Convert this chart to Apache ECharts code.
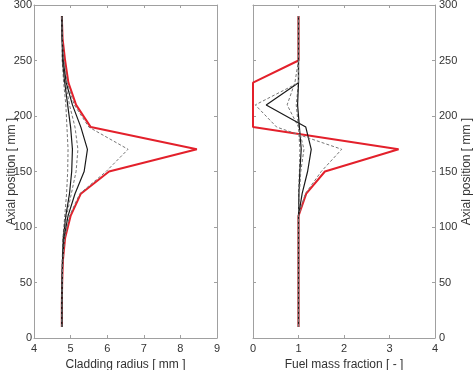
<!DOCTYPE html>
<html>
<head>
<meta charset="utf-8">
<script src="https://cdn.jsdelivr.net/npm/echarts@6/dist/echarts.min.js"></script>
<style>
html,body{margin:0;padding:0;background:#fff;}
#charts{width:474px;height:370px;}
</style>
</head>
<body>
<div id="charts"></div>
<script>
// axial nodes (mm), bottom to top
var axialPos = [10,30,50,70,90,110,130,150,170,190,210,230,250,270,290];

// cladding radius [mm]
var radRed = [4.76,4.76,4.77,4.79,4.85,5.00,5.28,6.05,8.45,5.55,5.15,4.94,4.85,4.78,4.76];
var radD3  = [4.76,4.76,4.77,4.79,4.84,4.97,5.25,5.97,6.57,5.50,5.10,4.91,4.82,4.77,4.76];
var radS2  = [4.76,4.76,4.77,4.78,4.82,4.93,5.12,5.37,5.46,5.28,5.05,4.88,4.80,4.77,4.76];
var radD2  = [4.76,4.76,4.77,4.78,4.81,4.89,5.02,5.15,5.20,5.12,4.97,4.86,4.79,4.77,4.76];
var radS1  = [4.76,4.76,4.77,4.78,4.80,4.87,4.97,5.03,5.05,5.00,4.92,4.84,4.78,4.77,4.76];
var radD1  = [4.76,4.76,4.76,4.77,4.79,4.84,4.89,4.92,4.93,4.90,4.87,4.81,4.77,4.77,4.76];

// fuel mass fraction [-]
var fmfRed = [1,1,1,1,1,1,1.17,1.58,3.20,0,0,0,1,1,1];
var fmfD3  = [1,1,1,1,1,1,1.15,1.50,1.95,0.52,0.05,1.00,1,1,1];
var fmfS2  = [1,1,1,1,1,1,1.08,1.20,1.28,1.16,0.29,1.00,1,1,1];
var fmfD2  = [1,1,1,1,1,1,1.02,1.05,1.12,1.00,0.75,0.92,1,1,1];
var fmfS1  = [1,1,1,1,1,1,1.01,1.03,1.06,1.02,0.98,1.00,1,1,1];
var fmfD1  = [1,1,1,1,1,1,1.00,1.02,1.03,1.00,0.95,1.00,1,1,1];

var yTicks = [0,50,100,150,200,250,300];

function pts(vals){
	var out = [];
	for(var i=0;i<vals.length;i++){
		out.push([vals[i], axialPos[i]]);
	}
	return out;
}

var boxColor = '#a0a0a0';
var txtColor = '#333';
var fnt = 'Liberation Sans, Arial, sans-serif';

function xAx(grid, pos, min, max, name, show){
	return {
		type:'value', gridIndex:grid, position:pos, min:min, max:max, interval:1,
		name: name, nameLocation:'middle', nameGap:21, nameMoveOverlap:false,
		nameTextStyle:{color:txtColor, fontSize:12, fontFamily:fnt},
		axisLine:{show:true, onZero:false, lineStyle:{color:boxColor, width:1}},
		axisTick:{show:true, inside:true, length:3, lineStyle:{color:boxColor}},
		axisLabel:{show:show, color:txtColor, fontSize:11, fontFamily:fnt, margin:5},
		splitLine:{show:false}
	};
}
function yAx(grid, pos, name, show, gap, margin){
	return {
		type:'value', gridIndex:grid, position:pos, min:0, max:300, interval:50,
		name: name, nameLocation:'middle', nameGap:gap, nameRotate:90, nameMoveOverlap:false,
		nameTextStyle:{color:txtColor, fontSize:12, fontFamily:fnt},
		axisLine:{show:true, onZero:false, lineStyle:{color:boxColor, width:1}},
		axisTick:{show:true, inside:true, length:3, lineStyle:{color:boxColor}},
		axisLabel:{show:show, color:txtColor, fontSize:11, fontFamily:fnt, margin:margin,
			formatter:function(v){ return yTicks.indexOf(v)>=0 ? v : ''; }},
		splitLine:{show:false}
	};
}

function line(data, xi, yi, kind){
	var s = {type:'line', xAxisIndex:xi, yAxisIndex:yi, data:pts(data),
		symbol:'none', animation:false, silent:true};
	if(kind=='red'){
		s.lineStyle = {color:'#e3202b', width:2};
		s.z = 2;
	}else if(kind=='solid'){
		s.lineStyle = {color:'#1a1a1a', width:1.2};
		s.z = 3;
	}else{
		s.lineStyle = {color:'#777', width:1, type:[3,2]};
		s.z = 3;
	}
	return s;
}

var charts = echarts.init(document.getElementById('charts'));
var option = {
	backgroundColor:'#fff',
	grid:[
		{left:34, top:5, width:183, height:333, containLabel:false, outerBoundsMode:'none'},
		{left:253, top:5, width:182, height:333, containLabel:false, outerBoundsMode:'none'}
	],
	xAxis:[
		xAx(0,'bottom',4,9,'Cladding radius [ mm ]',true),
		xAx(0,'top',4,9,'',false),
		xAx(1,'bottom',0,4,'Fuel mass fraction [ - ]',true),
		xAx(1,'top',0,4,'',false)
	],
	yAxis:[
		yAx(0,'left','Axial position [ mm ]',true,16,2),
		yAx(0,'right','',false,0,3),
		yAx(1,'left','',false,0,3),
		yAx(1,'right','Axial position [ mm ]',true,26,4)
	],
	series:[
		line(radRed,0,0,'red'),
		line(radD1,0,0,'dash'),
		line(radS1,0,0,'solid'),
		line(radD2,0,0,'dash'),
		line(radS2,0,0,'solid'),
		line(radD3,0,0,'dash'),
		line(fmfRed,2,3,'red'),
		line(fmfD1,2,3,'dash'),
		line(fmfS1,2,3,'solid'),
		line(fmfD2,2,3,'dash'),
		line(fmfS2,2,3,'solid'),
		line(fmfD3,2,3,'dash')
	]
};
charts.setOption(option);
</script>
</body>
</html>
